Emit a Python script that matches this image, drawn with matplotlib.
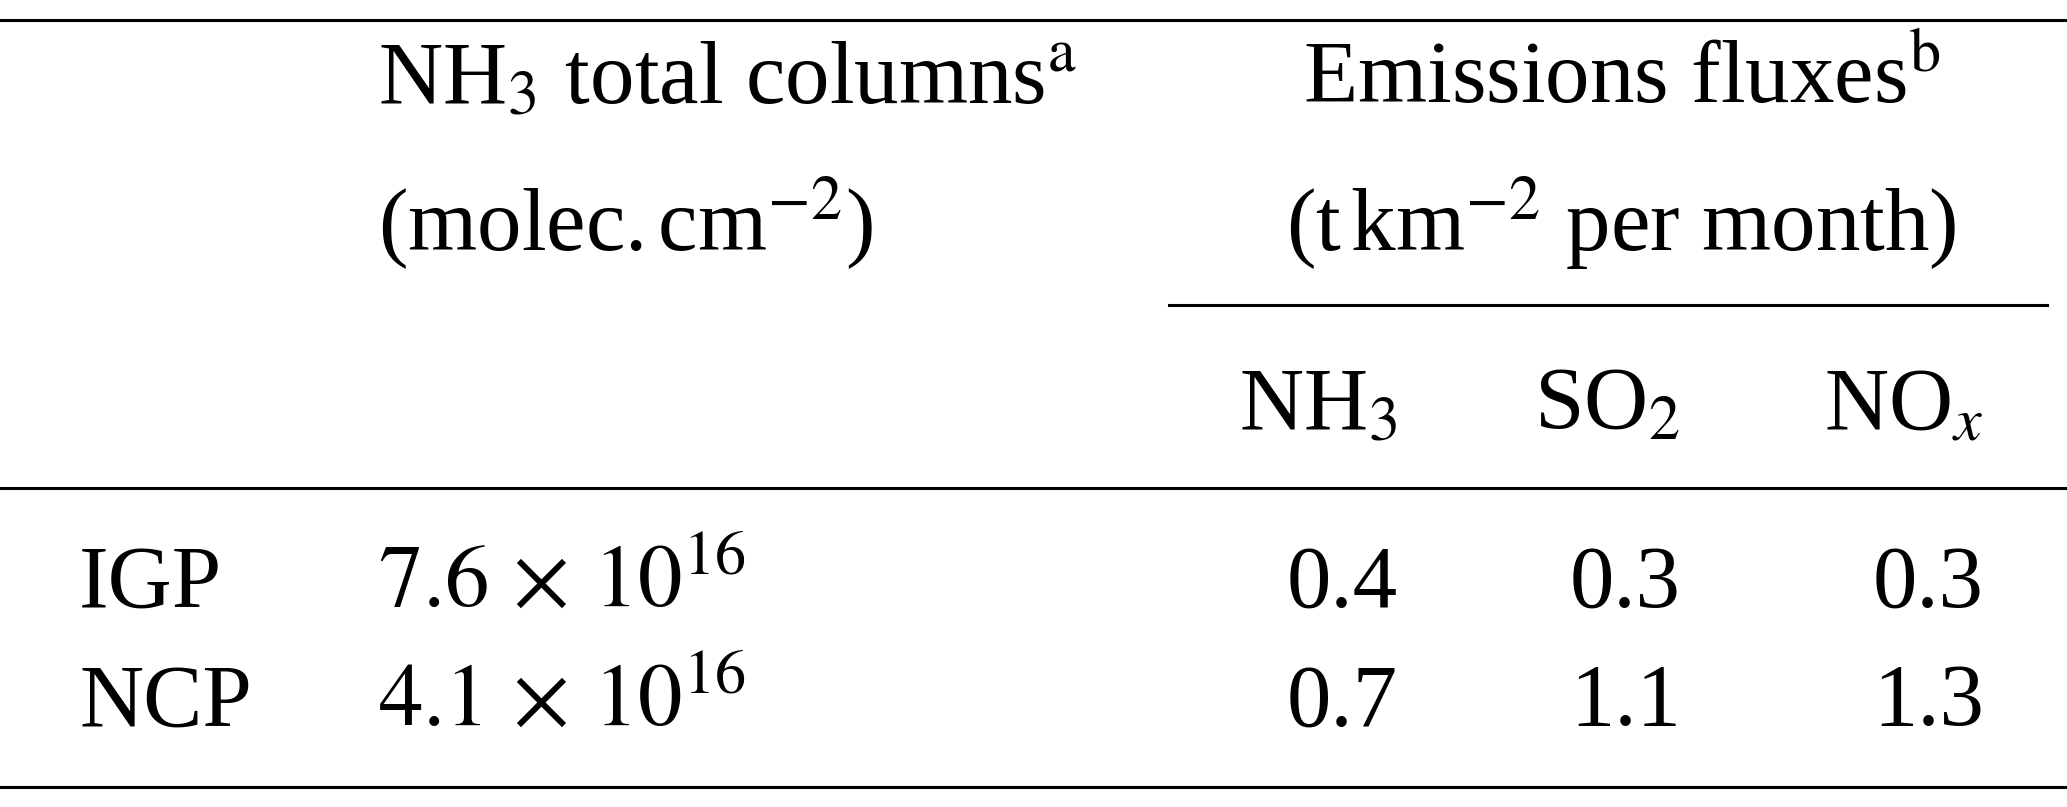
import matplotlib
matplotlib.use("Agg")
import matplotlib.pyplot as plt

plt.rcParams['font.family'] = ['Liberation Serif', 'DejaVu Serif']
plt.rcParams['mathtext.fontset'] = 'stix'

regions = ["IGP", "NCP"]
columns = [r"$\mathrm{7.6\,\times\,10^{16}}$", r"$\mathrm{4.1\,\times\,10^{16}}$"]
species = [r"NH$_3$", r"SO$_2$", r"NO$_x$"]
fluxes = [["0.4", "0.3", "0.3"], ["0.7", "1.1", "1.3"]]

W, H = 1568, 612  # layout frame (scaled to the output)
fig = plt.figure(figsize=(20.67, 8.07), dpi=100)
fs = 64

def T(x, y, s, ha="left"):
    fig.text(x / W, 1 - y / H, s, ha=ha, va="baseline", fontsize=fs)

def rule(y, x0=0, x1=W, lw=2.2):
    fig.add_artist(plt.Line2D([x0 / W, x1 / W], [1 - y / H] * 2, color="black", lw=lw))

rule(15)
rule(231, 887, 1553)
rule(370)
rule(597)

T(287, 78, r"NH$_3$ total columns$^{\mathrm{a}}$")
T(287, 190, r"(molec.$\,$cm$^{-2}$)")
T(1230, 78, r"Emissions fluxes$^{\mathrm{b}}$", ha="center")
T(1230, 190, r"(t$\,$km$^{-2}$ per month)", ha="center")

col_x = [1060, 1275, 1505]
for x, s in zip(col_x, species):
    T(x, 325, s, ha="right")

row_y = [460, 550]
for y, r, c, fl in zip(row_y, regions, columns, fluxes):
    T(60, y, r)
    T(287, y, c)
    for x, v in zip(col_x, fl):
        T(x, y, v, ha="right")

fig.savefig("out.png", dpi=100, facecolor="white")
